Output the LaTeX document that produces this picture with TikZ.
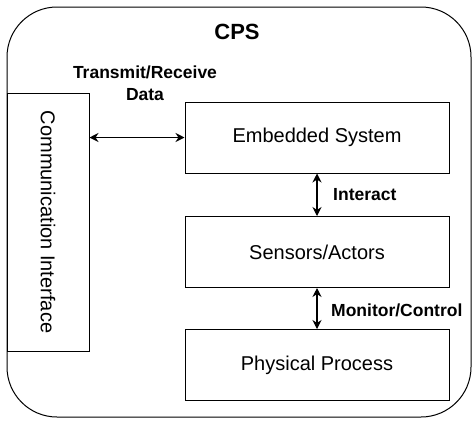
\documentclass[tikz,border=0pt]{standalone}
\usepackage{fontspec}
\setmainfont{Liberation Sans}
\usetikzlibrary{arrows.meta}

\begin{document}
\begin{tikzpicture}[x=1pt,y=-1pt,
        block/.style={draw,line width=1pt,minimum width=264pt,minimum height=71pt,inner sep=0pt,font=\fontsize{20}{24}\selectfont},
        link/.style={{Stealth[length=9pt,width=9pt,inset=3pt]}-{Stealth[length=9pt,width=9pt,inset=3pt]},line width=1.1pt},
        tag/.style={font=\fontsize{17.5}{22}\selectfont\bfseries,inner sep=0pt}]
        \useasboundingbox (0,0) rectangle (474,424);

        % Outer CPS frame
        \draw[line width=1pt,rounded corners=50pt] (7,7) rectangle (471,417);
        \node[font=\fontsize{22}{26}\selectfont\bfseries] (cps) at (237,32) {CPS};

        % Communication interface
        \node[draw,line width=1pt,minimum width=82pt,minimum height=258pt,inner sep=0pt] (comm) at (48,222) {};
        \node[rotate=-90,font=\fontsize{20}{24}\selectfont] (commtext) at (comm.center) {Communication Interface};

        % Blocks
        \node[block] (emb) at (317,137.5) {Embedded System};
        \node[block] (sens) at (317,252) {Sensors/Actors};
        \node[block] (phys) at (317,365) {Physical Process};

        % Links
        \draw[link] (comm.east |- emb.west) -- (emb.west);
        \draw[link] (emb.south) -- (sens.north);
        \draw[link] (sens.south) -- (phys.north);

        % Link labels
        \node[tag,align=center] (trx) at (145,83) {Transmit/Receive\\Data};
        \node[tag,anchor=west] (inter) at (333,195) {Interact};
        \node[tag,anchor=west] (monc) at (331,310) {Monitor/Control};
      \end{tikzpicture}
\end{document}
